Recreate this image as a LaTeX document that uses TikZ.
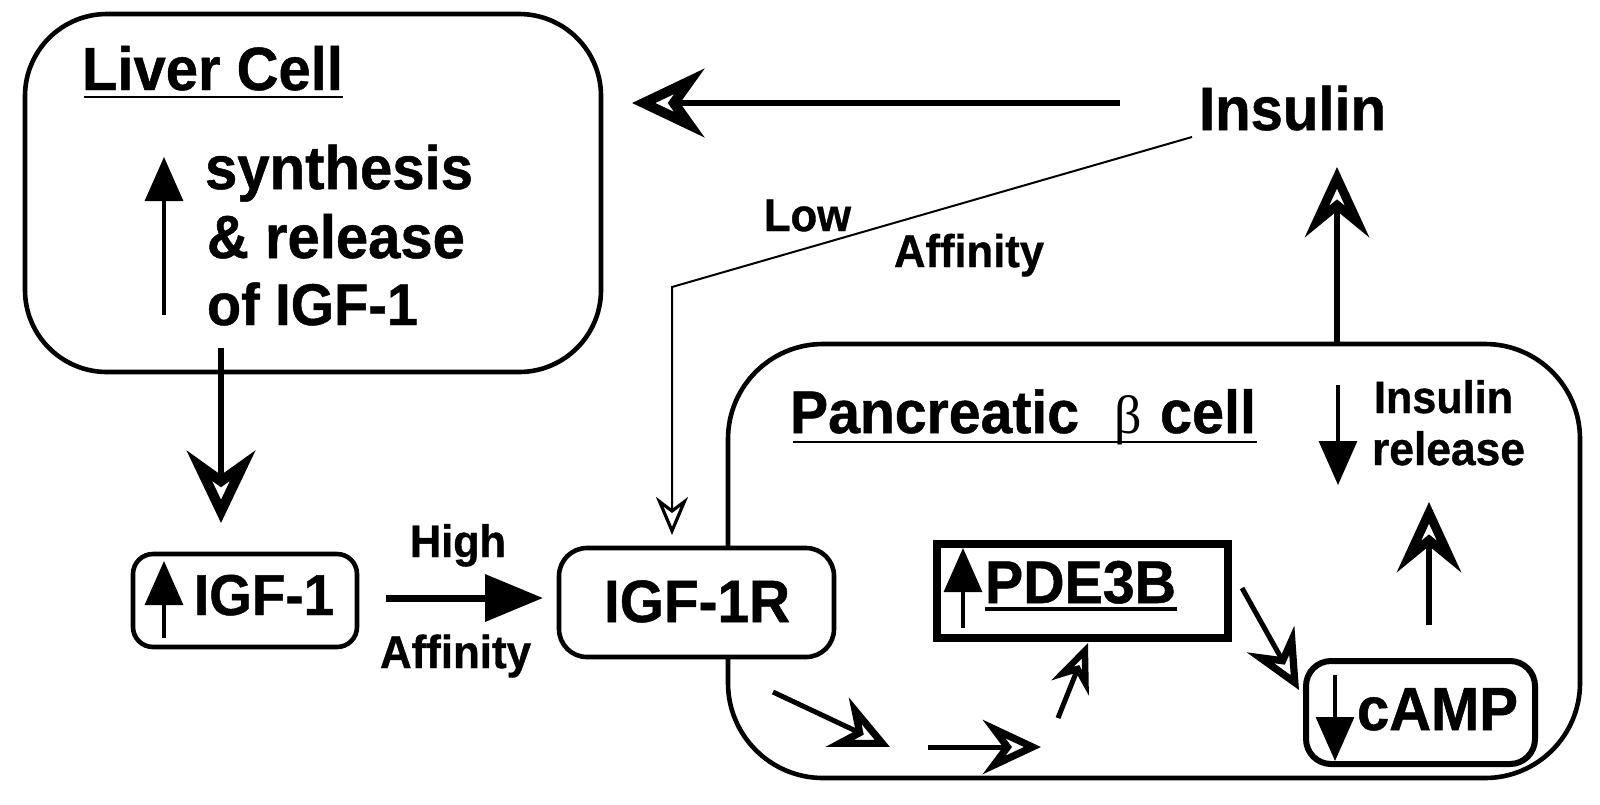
\documentclass[tikz,border=0pt]{standalone}
\usepackage{fontspec}
\setmainfont{Liberation Sans}[FakeStretch=0.95, BoldFeatures={FakeBold=0.8}]
\newfontfamily\serifb{Liberation Serif}
\usetikzlibrary{arrows.meta}
\newcommand{\fittext}[2]{\resizebox{#1pt}{!}{\bfseries #2}}
\begin{document}
\begin{tikzpicture}[x=0.5pt,y=-0.5pt]
\tikzset{
  cellbox/.style={draw, line width=2.3pt, rounded corners=#1, fill=white, inner sep=0pt},
  txt/.style={anchor=base west, inner sep=0pt, outer sep=0pt},
  ul/.style={line width=1.3pt},
  bigopen/.style={line width=3pt, -{Stealth[open, length=36pt, width=34pt, inset=12pt, line width=5pt]}},
  upopen/.style={line width=2.6pt, -{Stealth[open, length=35pt, width=32pt, inset=13pt, line width=4.5pt]}},
  smallopen/.style={line width=2.5pt, -{Stealth[open, length=29pt, width=27pt, inset=10pt, line width=3.6pt]}},
  thinopen/.style={line width=1pt, -{Stealth[open, length=19pt, width=16pt, inset=6pt, line width=1.6pt]}},
  filledup/.style={line width=1.6pt, -{Triangle[length=22pt, width=19pt]}},
  higharrow/.style={line width=3.5pt, -{Triangle[length=29pt, width=23pt]}}
}
\fill[white] (0,0) rectangle (1600,804);
\useasboundingbox (0,0) rectangle (1600,804);

% boxes
\node[cellbox=41pt, minimum width=288pt, minimum height=179pt] (liver) at (313,193) {};
\node[cellbox=47.5pt, minimum width=426pt, minimum height=217pt] (panc) at (1154,561) {};
\node[cellbox=10pt, minimum width=112pt, minimum height=46.5pt] (igf) at (245,600.5) {};
\node[cellbox=14pt, minimum width=137.5pt, minimum height=54.5pt] (igfr) at (696.5,602.5) {};
\node[draw, line width=4pt, fill=white, minimum width=145.5pt, minimum height=47pt, inner sep=0pt] (pde) at (1082.5,591) {};
\node[cellbox=12.5pt, line width=3pt, minimum width=114.5pt, minimum height=51.5pt] (camp) at (1420.5,712.5) {};

% texts
\node[txt] (livert) at (82,90) {\fittext{130.5}{Liver Cell}};
\draw[ul] (84,97) -- (343,97);
\node[txt] (syn1) at (205,189) {\fittext{134}{synthesis}};
\node[txt] (syn2) at (207,258) {\fittext{129}{\& release}};
\node[txt] (syn3) at (207,325) {\fittext{105.5}{of IGF-1}};
\node[txt] (insulin) at (1199,130) {\fittext{93.5}{Insulin}};
\node[txt] (low) at (764,231) {\fittext{43.5}{Low}};
\node[txt] (lowaff) at (894,267) {\fittext{75}{Affinity}};
\node[txt] (high) at (410,557) {\fittext{48}{High}};
\node[txt] (highaff) at (380,668) {\fittext{75.5}{Affinity}};
\node[txt] (igft) at (194,615) {\fittext{70}{IGF-1}};
\node[txt] (igfrt) at (604,622) {\fittext{93}{IGF-1R}};
\node[txt] (panct) at (790,433) {\fittext{144.5}{Pancreatic}};
\node[txt] (beta) at (1114,433) {\serifb\fontsize{27}{30}\selectfont β};
\node[txt] (cellt) at (1160,433) {\fittext{48}{cell}};
\draw[ul] (793,442) -- (1257,442);
\node[txt] (insrel1) at (1374,413) {\fittext{69.5}{Insulin}};
\node[txt] (insrel2) at (1372,465) {\fittext{76.5}{release}};
\node[txt] (pdet) at (985,603) {\fittext{95.5}{PDE3B}};
\draw[line width=1.6pt] (985,609) -- (1177,609);
\node[txt] (campt) at (1357,730) {\fittext{80.5}{cAMP}};

% coordinates
\coordinate (luA) at (164,315);  \coordinate (luB) at (164,157);
\coordinate (iuA) at (164,638);  \coordinate (iuB) at (164,561);
\coordinate (puA) at (963,628);  \coordinate (puB) at (963,548);
\coordinate (cdA) at (1335,675); \coordinate (cdB) at (1335,761);
\coordinate (rdA) at (1338,385); \coordinate (rdB) at (1338,485);
\coordinate (insA) at (1120,103); \coordinate (insB) at (632,103);
\coordinate (lowA) at (1192,137); \coordinate (lowB) at (672,287); \coordinate (lowC) at (672,535);
\coordinate (ldA) at (221,348);  \coordinate (ldB) at (221,523);
\coordinate (hA) at (386,598);   \coordinate (hB) at (543,598);
\coordinate (b1A) at (773,692);  \coordinate (b1B) at (890,747);
\coordinate (b2A) at (928,747);  \coordinate (b2B) at (1041,747);
\coordinate (b3A) at (1058,718); \coordinate (b3B) at (1088,643);
\coordinate (pcA) at (1242,588); \coordinate (pcB) at (1299,690);
\coordinate (cuA) at (1429,625); \coordinate (cuB) at (1429,502);
\coordinate (piA) at (1337,344); \coordinate (piB) at (1337,167);

% small filled arrows
\draw[filledup] (luA) -- (luB);
\draw[filledup] (iuA) -- (iuB);
\draw[filledup] (puA) -- (puB);
\draw[filledup] (cdA) -- (cdB);
\draw[filledup] (rdA) -- (rdB);

% connectors
\draw[bigopen] (insA) -- (insB);
\draw[thinopen] (lowA) -- (lowB) -- (lowC);
\draw[bigopen] (ldA) -- (ldB);
\draw[higharrow] (hA) -- (hB);
\draw[smallopen] (b1A) -- (b1B);
\draw[smallopen] (b2A) -- (b2B);
\draw[smallopen, -{Stealth[open, length=24pt, width=20pt, inset=8pt, line width=3.2pt]}] (b3A) -- (b3B);
\draw[smallopen] (pcA) -- (pcB);
\draw[upopen] (cuA) -- (cuB);
\draw[upopen] (piA) -- (piB);
\end{tikzpicture}
\end{document}
